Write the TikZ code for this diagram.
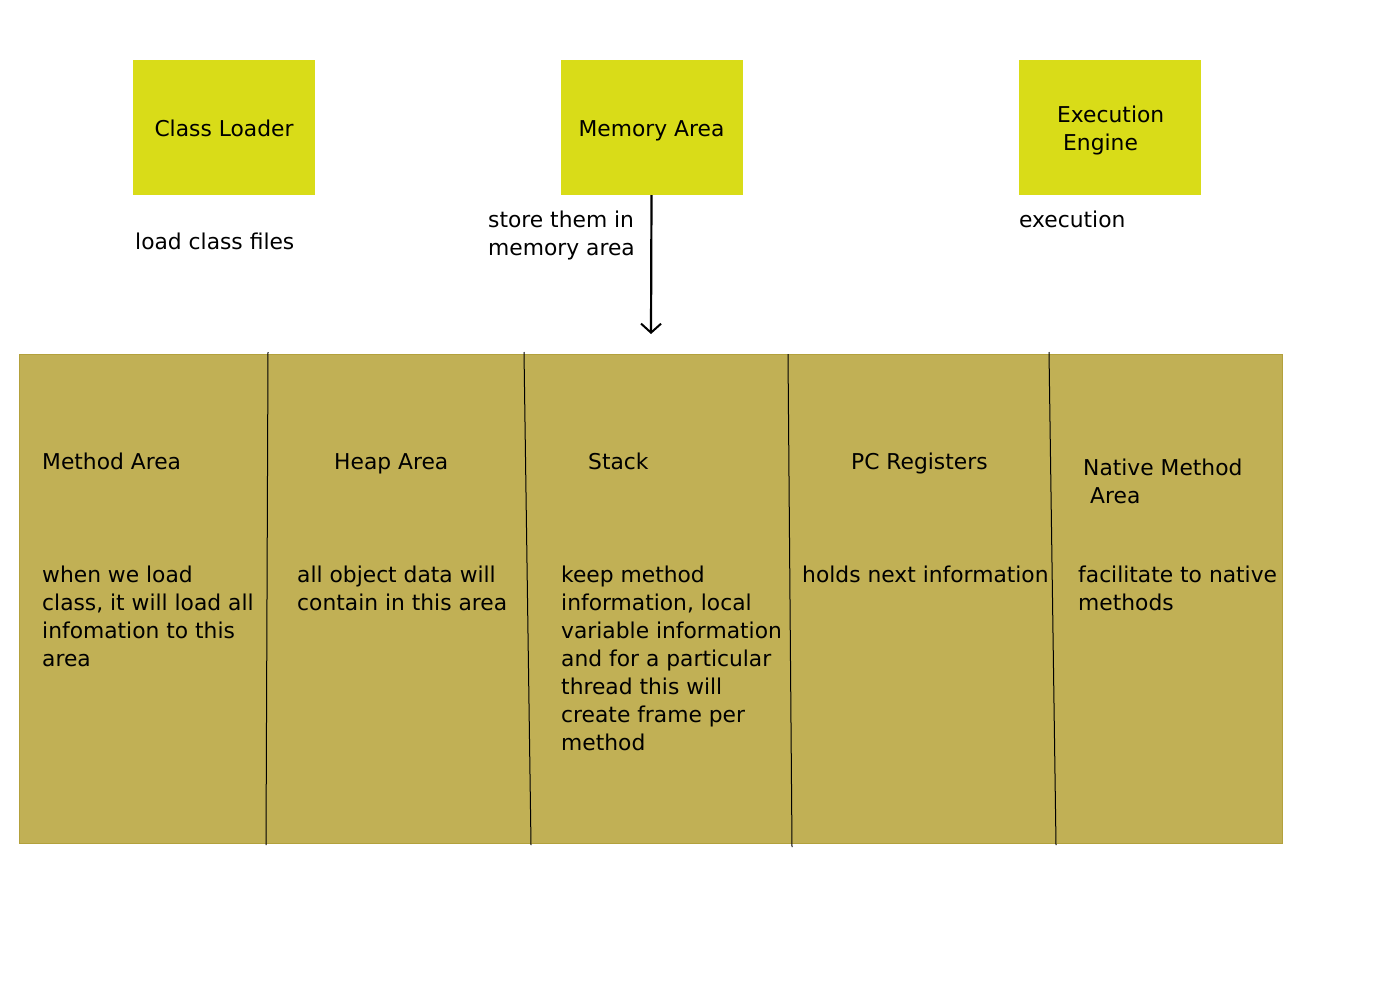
\documentclass[tikz,border=0pt]{standalone}
\usepackage{fontspec}
\setmainfont{DejaVu Sans}
\usetikzlibrary{arrows.meta}
\definecolor{lime}{HTML}{D9DC18}
\definecolor{gold}{HTML}{C1B055}
\definecolor{goldedge}{HTML}{B3A13C}
\begin{document}
\begin{tikzpicture}[x=1pt,y=-1pt,
  every node/.style={font=\fontsize{21.8}{28}\selectfont, inner sep=0pt},
  topbox/.style={fill=lime, minimum width=182pt, minimum height=135pt, text height=17pt, text depth=0pt},
  lbl/.style={anchor=base west, align=left},
  divider/.style={draw=black, line width=1pt}]
\useasboundingbox (0,0) rectangle (1400,996);
% top boxes
\node[topbox] (cl) at (224,127.5) {Class Loader};
\node[topbox] (ma) at (651.5,127.5) {Memory Area};
\node[topbox] (ee) at (1109.5,127.5) {};
\node[lbl] (eet) at (1057,150) {Execution\\\hspace*{6pt}Engine};
% labels under boxes
\node[lbl] (l1) at (135,249) {load class files};
\node[lbl] (l2) at (488,255) {store them in\\memory area};
\node[lbl] (l3) at (1019,227) {execution};
% arrow
\coordinate (arrEnd) at (651,334);
\draw[line width=2.2pt, -{Straight Barb[length=9pt,width=20pt,line width=2pt]}] (ma.south) -- (arrEnd);
% bottom area
\node[fill=gold, draw=goldedge, line width=0.8pt, minimum width=1263pt, minimum height=489pt] (mem) at (650.5,598.5) {};
\coordinate (d1t) at (268,352); \coordinate (d1b) at (266,845);
\coordinate (d2t) at (524,352); \coordinate (d2b) at (531,845);
\coordinate (d3t) at (788,354); \coordinate (d3b) at (792,847);
\coordinate (d4t) at (1049,352); \coordinate (d4b) at (1056,845);
\draw[divider] (d1t) -- (d1b);
\draw[divider] (d2t) -- (d2b);
\draw[divider] (d3t) -- (d3b);
\draw[divider] (d4t) -- (d4b);
% headings
\node[lbl] (h1) at (42,469) {Method Area};
\node[lbl] (h2) at (334,469) {Heap Area};
\node[lbl] (h3) at (588,469) {Stack};
\node[lbl] (h4) at (851,469) {PC Registers};
\node[lbl] (h5) at (1083,503) {Native Method\\\hspace*{7pt}Area};
% descriptions
\node[lbl] (t1) at (42,666) {when we load\\class, it will load all\\infomation to this\\area};
\node[lbl] (t2) at (297,610) {all object data will\\contain in this area};
\node[lbl] (t3) at (561,750) {keep method\\information, local\\variable information\\and for a particular\\thread this will\\create frame per\\method};
\node[lbl] (t4) at (802,582) {holds next information};
\node[lbl] (t5) at (1078,610) {facilitate to native\\methods};
\end{tikzpicture}
\end{document}
